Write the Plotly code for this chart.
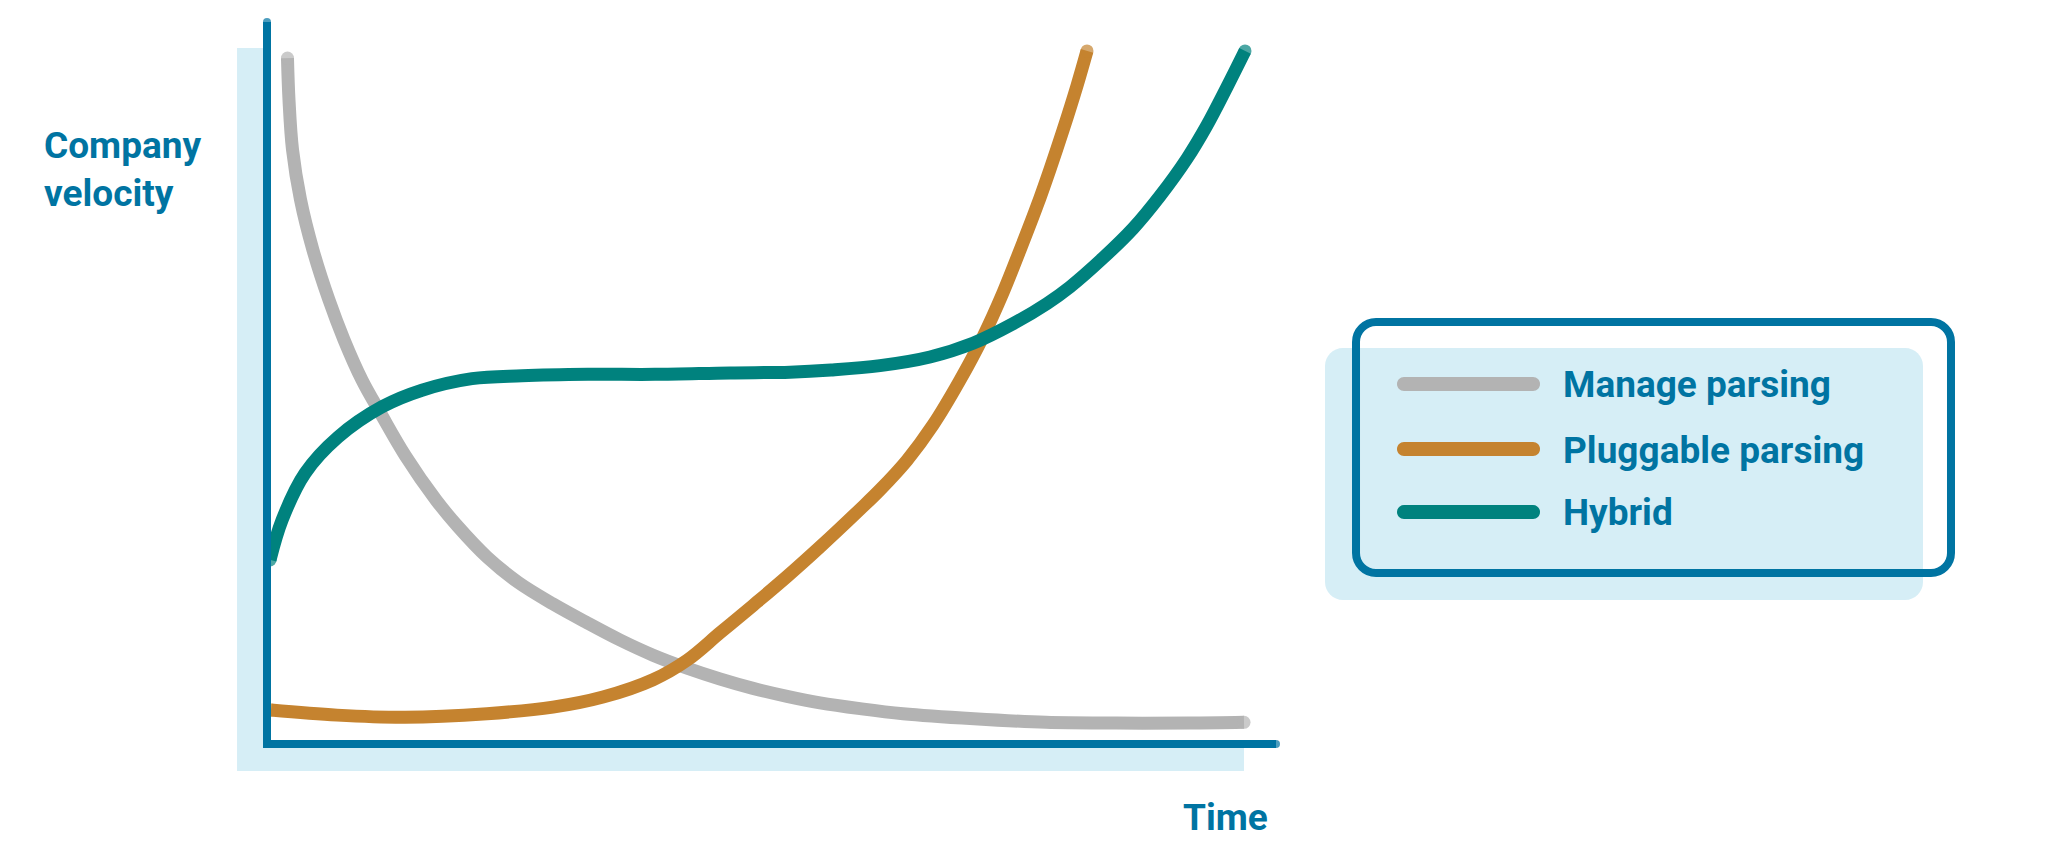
import plotly.graph_objects as go

# ---------------- data (Time 0..100, Company velocity 0..100) ----------------
manage_x = [2.03, 2.18, 2.53, 3.32, 4.56, 6.14, 7.63, 9.42, 11.30, 13.68, 16.75, 18.93,
            21.80, 24.88, 28.34, 31.71, 34.99, 38.26, 41.63, 44.90, 48.17, 51.54,
            54.81, 58.77, 63.03, 70.07, 77.21, 84.24, 91.38, 96.83]
manage_y = [95.0, 89.2, 82.3, 75.4, 68.4, 61.5, 56.0, 50.4, 45.7, 40.0, 33.8, 30.1,
            25.9, 22.4, 19.4, 16.8, 14.4, 12.3, 10.5, 9.0, 7.7, 6.6,
            5.7, 4.9, 4.2, 3.5, 3.0, 2.9, 2.9, 3.0]

plug_x = [0.40, 6.94, 13.68, 21.80, 28.34, 33.30, 38.26, 41.63, 44.90, 48.17, 51.54,
          54.81, 58.77, 60.75, 63.43, 66.01, 68.68, 70.96, 72.94, 74.63, 76.31,
          77.60, 78.89, 80.28, 81.27]
plug_y = [4.7, 4.0, 3.7, 4.2, 5.1, 6.5, 8.9, 11.6, 15.4, 19.2, 23.2,
          27.3, 32.5, 35.2, 39.3, 44.2, 50.4, 56.4, 62.5, 68.4, 74.5,
          79.6, 85.0, 91.2, 96.0]

hybrid_x = [0.30, 1.49, 3.77, 7.04, 11.40, 15.36, 20.32, 25.27, 31.81, 38.45, 45.89,
            51.83, 55.90, 60.75, 65.71, 69.97, 73.93, 77.30, 79.58, 82.85, 85.83,
            88.50, 91.18, 93.16, 95.14, 96.93]
hybrid_y = [25.5, 31.0, 37.5, 42.5, 46.7, 49.0, 50.6, 51.0, 51.2, 51.2, 51.4,
            51.5, 51.8, 52.4, 53.6, 55.5, 58.2, 61.0, 63.3, 67.3, 71.4,
            75.9, 81.1, 85.7, 91.0, 96.0]

series_names = ["Manage parsing", "Pluggable parsing", "Hybrid"]
axis_x = [0, 0, 100]
axis_y = [100, 0, 0]
y_title = "Company<br>velocity"
x_title = "Time"

# ---------------- style ----------------
W, H = 2032, 836          # page has an 8px body margin
OFF = 8
BLUE = "#0074A2"
LIGHT = "#D6EEF6"
GRAY = "#B3B3B3"
ORANGE = "#C5832F"
TEAL = "#00827E"
FONT = dict(family="Roboto, Noto Sans, sans-serif", size=37, color=BLUE, weight=700)
LW = 13


def px(x):
    return (x - OFF) / W


def py(y):
    return 1 - (y - OFF) / H


def rr(x0, y0, x1, y1, r):
    k = 0.5523 * r
    P = lambda x, y: f"{px(x):.5f},{py(y):.5f}"
    return (f"M{P(x0 + r, y0)} L{P(x1 - r, y0)} "
            f"C{P(x1 - r + k, y0)} {P(x1, y0 + r - k)} {P(x1, y0 + r)} "
            f"L{P(x1, y1 - r)} "
            f"C{P(x1, y1 - r + k)} {P(x1 - r + k, y1)} {P(x1 - r, y1)} "
            f"L{P(x0 + r, y1)} "
            f"C{P(x0 + r - k, y1)} {P(x0, y1 - r + k)} {P(x0, y1 - r)} "
            f"L{P(x0, y0 + r)} "
            f"C{P(x0, y0 + r - k)} {P(x0 + r - k, y0)} {P(x0 + r, y0)} Z")


def caps(n, size):
    return [size] + [0] * (n - 2) + [size]


fig = go.Figure()
for xs, ys, col, name in [(manage_x, manage_y, GRAY, series_names[0]),
                          (plug_x, plug_y, ORANGE, series_names[1]),
                          (hybrid_x, hybrid_y, TEAL, series_names[2])]:
    fig.add_trace(go.Scatter(x=xs, y=ys, mode="lines+markers", name=name,
                             line=dict(color=col, width=LW, shape="spline",
                                       smoothing=1.0, simplify=False),
                             marker=dict(color=col, size=caps(len(xs), LW), line=dict(width=0)),
                             showlegend=False, hoverinfo="skip"))

fig.add_trace(go.Scatter(x=axis_x, y=axis_y, mode="lines+markers",
                         line=dict(color=BLUE, width=8, simplify=False),
                         marker=dict(color=BLUE, size=caps(3, 8), line=dict(width=0)),
                         showlegend=False, hoverinfo="skip"))

shapes = [
    dict(type="rect", xref="x", yref="y", x0=-2.97, x1=96.83, y0=-3.74, y1=96.4,
         fillcolor=LIGHT, line=dict(width=0), layer="below"),
    dict(type="rect", xref="x", yref="y", x0=0, x1=98, y0=0, y1=100,
         fillcolor="white", line=dict(width=0), layer="below"),
    dict(type="path", xref="paper", yref="paper", path=rr(1325, 348, 1923, 600, 18),
         fillcolor=LIGHT, line=dict(width=0), layer="above"),
    dict(type="path", xref="paper", yref="paper", path=rr(1356, 322, 1951, 573, 20),
         fillcolor="rgba(0,0,0,0)", line=dict(color=BLUE, width=8), layer="above"),
]
leg_y = [384, 449, 512]
leg_cols = [GRAY, ORANGE, TEAL]
annotations = []
for yc, col, name in zip(leg_y, leg_cols, series_names):
    shapes.append(dict(type="path", xref="paper", yref="paper",
                       path=rr(1397, yc - 7, 1540, yc + 7, 7),
                       fillcolor=col, line=dict(width=0), layer="above"))
    annotations.append(dict(x=px(1561), y=py(yc + 1), xref="paper", yref="paper",
                            text=name, showarrow=False, xanchor="left", yanchor="middle",
                            font=FONT))

annotations.append(dict(x=px(42), y=py(170), xref="paper", yref="paper", text=y_title,
                        showarrow=False, xanchor="left", yanchor="middle", align="left",
                        font=FONT))
annotations.append(dict(x=px(1270), y=py(817), xref="paper", yref="paper", text=x_title,
                        showarrow=False, xanchor="right", yanchor="middle", font=FONT))

fig.update_layout(
    width=W, height=H,
    margin=dict(l=0, r=0, t=0, b=0, pad=0),
    paper_bgcolor="white", plot_bgcolor="white",
    xaxis=dict(range=[-25.669, 175.718], visible=False, fixedrange=True),
    yaxis=dict(range=[-13.850, 101.939], visible=False, fixedrange=True),
    shapes=shapes, annotations=annotations, showlegend=False,
)
fig.write_html("out.html", config={"displayModeBar": False})
